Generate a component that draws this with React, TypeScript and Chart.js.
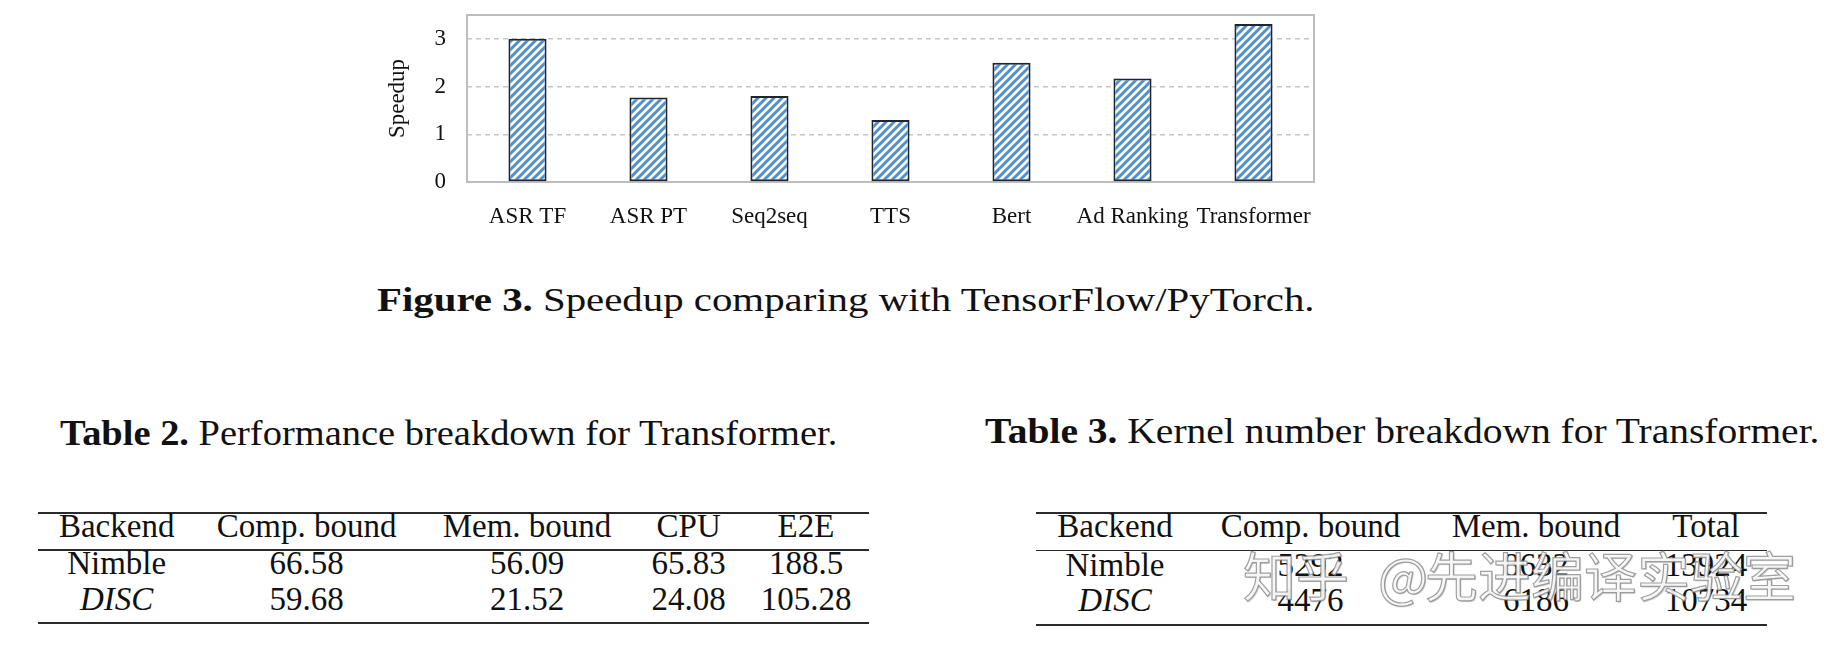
import React, { useEffect, useLayoutEffect, useRef, useState } from "react";
import { Chart, registerables } from "chart.js";

Chart.register(...registerables);

// ---------- data ----------
const categories = ["ASR TF", "ASR PT", "Seq2seq", "TTS", "Bert", "Ad Ranking", "Transformer"];
const speedup = [3.0, 1.77, 1.8, 1.3, 2.5, 2.17, 3.31];
const yTickValues = [0, 1, 2, 3];
const yMax = 3.5;
const yTitle = "Speedup";

const figureCaptionBold = "Figure 3.";
const figureCaptionRest = " Speedup comparing with TensorFlow/PyTorch.";

const table2CaptionBold = "Table 2.";
const table2CaptionRest = " Performance breakdown for Transformer.";
const table2Header = ["Backend", "Comp. bound", "Mem. bound", "CPU", "E2E"];
const table2Backends = ["Nimble", "DISC"];
const table2Comp = ["66.58", "59.68"];
const table2Mem = ["56.09", "21.52"];
const table2Cpu = ["65.83", "24.08"];
const table2E2E = ["188.5", "105.28"];

const table3CaptionBold = "Table 3.";
const table3CaptionRest = " Kernel number breakdown for Transformer.";
const table3Header = ["Backend", "Comp. bound", "Mem. bound", "Total"];
const table3Backends = ["Nimble", "DISC"];
const table3Comp = ["5292", "4476"];
const table3Mem = ["8632", "6186"];
const table3Total = ["13924", "10734"];

const watermarkParts = ["知乎", "@", "先进编译实验室"];

// ---------- layout / style ----------
const SERIF = "'Liberation Serif', 'Times New Roman', serif";
const W = 1842;
const H = 651;

function FitText(props: {
  left: number;
  baseline: number;
  width: number;
  size: number;
  children: React.ReactNode;
}) {
  const ref = useRef<HTMLDivElement>(null);
  const [sx, setSx] = useState(1);
  useLayoutEffect(() => {
    const el = ref.current;
    if (el) {
      const w = el.offsetWidth;
      if (w > 0) setSx(props.width / w);
    }
  }, []);
  return (
    <div
      ref={ref}
      style={{
        position: "absolute",
        left: props.left,
        top: props.baseline - 0.8375 * props.size,
        fontSize: props.size,
        lineHeight: 1,
        whiteSpace: "nowrap",
        fontFamily: SERIF,
        color: "#111",
        transform: `scaleX(${sx})`,
        transformOrigin: "0 0",
      }}
    >
      {props.children}
    </div>
  );
}

function Cell(props: { cx: number; baseline: number; size: number; italic?: boolean; text: string }) {
  return (
    <div
      style={{
        position: "absolute",
        left: props.cx,
        top: props.baseline - 0.8375 * props.size,
        fontSize: props.size,
        lineHeight: 1,
        whiteSpace: "nowrap",
        fontFamily: SERIF,
        fontStyle: props.italic ? "italic" : "normal",
        color: "#111",
        transform: "translateX(-50%)",
      }}
    >
      {props.text}
    </div>
  );
}

function Rule(props: { x1: number; x2: number; y: number; h: number }) {
  return (
    <div
      style={{
        position: "absolute",
        left: props.x1,
        top: props.y - props.h / 2,
        width: props.x2 - props.x1,
        height: props.h,
        background: "#2a2a2a",
      }}
    />
  );
}

function Table(props: {
  cols: number[];
  baselines: number[];
  rules: number[];
  x1: number;
  x2: number;
  header: string[];
  rows: string[][];
}) {
  const size = 33;
  const out: React.ReactNode[] = [];
  props.header.forEach((h, i) =>
    out.push(<Cell key={"h" + i} cx={props.cols[i]} baseline={props.baselines[0]} size={size} text={h} />)
  );
  props.rows.forEach((row, r) =>
    row.forEach((v, c) =>
      out.push(
        <Cell
          key={"r" + r + "c" + c}
          cx={props.cols[c]}
          baseline={props.baselines[r + 1]}
          size={size}
          italic={c === 0 && v === "DISC"}
          text={v}
        />
      )
    )
  );
  return (
    <>
      <Rule x1={props.x1} x2={props.x2} y={props.rules[0]} h={2} />
      <Rule x1={props.x1} x2={props.x2} y={props.rules[1]} h={1.5} />
      <Rule x1={props.x1} x2={props.x2} y={props.rules[2]} h={2} />
      {out}
    </>
  );
}

function makeStripePattern(): CanvasPattern | string {
  const s = 8;
  const c = document.createElement("canvas");
  c.width = s;
  c.height = s;
  const ctx = c.getContext("2d");
  if (!ctx) return "#5b9bd5";
  ctx.fillStyle = "#ffffff";
  ctx.fillRect(0, 0, s, s);
  ctx.strokeStyle = "#4f8fd3";
  ctx.lineWidth = 3;
  ctx.beginPath();
  ctx.moveTo(0, s);
  ctx.lineTo(s, 0);
  ctx.moveTo(-2, 2);
  ctx.lineTo(2, -2);
  ctx.moveTo(s - 2, s + 2);
  ctx.lineTo(s + 2, s - 2);
  ctx.stroke();
  const p = ctx.createPattern(c, "repeat");
  return p || "#5b9bd5";
}

function SpeedupChart() {
  const ref = useRef<HTMLCanvasElement>(null);
  useEffect(() => {
    const canvas = ref.current;
    if (!canvas) return;
    const pattern = makeStripePattern();
    const framePlugin = {
      id: "frame",
      beforeDatasetsDraw(chart: any) {
        const { ctx, chartArea } = chart;
        ctx.save();
        ctx.strokeStyle = "#bdbdbd";
        ctx.lineWidth = 2;
        ctx.strokeRect(chartArea.left, chartArea.top, chartArea.right - chartArea.left, chartArea.bottom - chartArea.top);
        ctx.restore();
      },
    };
    const chart = new Chart(canvas, {
      type: "bar",
      data: {
        labels: categories,
        datasets: [
          {
            data: speedup,
            backgroundColor: pattern as any,
            borderColor: "#1c2633",
            borderWidth: 2,
            borderSkipped: false,
            barPercentage: 0.315,
            categoryPercentage: 1,
          },
        ],
      },
      options: {
        responsive: false,
        animation: false,
        devicePixelRatio: 1,
        layout: { padding: { left: 380, right: W - 1314, top: 15, bottom: 0 } },
        plugins: { legend: { display: false }, tooltip: { enabled: false } },
        scales: {
          x: {
            grid: { display: false },
            border: { display: false },
            ticks: {
              autoSkip: false,
              maxRotation: 0,
              padding: 13,
              color: "#111",
              font: { family: SERIF, size: 23 },
            },
            afterFit(scale: any) {
              scale.height = 58;
              scale.paddingLeft = 0;
              scale.paddingRight = 0;
            },
          },
          y: {
            min: 0,
            max: yMax,
            ticks: {
              stepSize: 1,
              padding: 21,
              color: "#111",
              font: { family: SERIF, size: 23 },
            },
            afterBuildTicks(axis: any) {
              axis.ticks = yTickValues.map((v) => ({ value: v }));
            },
            grid: {
              drawTicks: false,
              lineWidth: 1.5,
              color: (ctx: any) => (ctx.tick && ctx.tick.value === 0 ? "rgba(0,0,0,0)" : "#c6c6c6"),
            },
            border: { display: false, dash: [5, 4] },
            title: {
              display: true,
              text: yTitle,
              color: "#111",
              font: { family: SERIF, size: 23 },
              padding: { top: 4, bottom: 0 },
            },
            afterFit(scale: any) {
              scale.width = 87;
              scale.paddingTop = 0;
              scale.paddingBottom = 0;
            },
          },
        },
      },
      plugins: [framePlugin],
    });
    return () => chart.destroy();
  }, []);
  return <canvas ref={ref} width={W} height={240} style={{ position: "absolute", left: 0, top: 0 }} />;
}

export default function App() {
  return (
    <div
      style={{
        position: "absolute",
        left: 0,
        top: 0,
        width: W,
        height: H,
        background: "#fff",
        overflow: "hidden",
      }}
    >
      <SpeedupChart />

      <FitText left={377} baseline={311.7} width={938} size={34}>
        <b>{figureCaptionBold}</b>
        {figureCaptionRest}
      </FitText>

      <FitText left={60} baseline={445} width={777} size={35}>
        <b>{table2CaptionBold}</b>
        {table2CaptionRest}
      </FitText>

      <FitText left={985} baseline={443.3} width={834} size={35}>
        <b>{table3CaptionBold}</b>
        {table3CaptionRest}
      </FitText>

      <Table
        cols={[116.7, 306.7, 527, 688.7, 806]}
        baselines={[537.7, 575, 610.7]}
        rules={[513.3, 550, 622.7]}
        x1={38}
        x2={869}
        header={table2Header}
        rows={table2Backends.map((b, i) => [b, table2Comp[i], table2Mem[i], table2Cpu[i], table2E2E[i]])}
      />

      <Table
        cols={[1115, 1310.5, 1536, 1706]}
        baselines={[538, 576.7, 611.7]}
        rules={[513.3, 550.7, 625]}
        x1={1036}
        x2={1767}
        header={table3Header}
        rows={table3Backends.map((b, i) => [b, table3Comp[i], table3Mem[i], table3Total[i]])}
      />

      {watermarkParts.map((t, i) => (
        <div
          key={i}
          style={{
            position: "absolute",
            left: [1243, 1378, 1425][i],
            top: 548,
            fontSize: 53,
            lineHeight: 1,
            whiteSpace: "nowrap",
            fontFamily: "'Noto Sans CJK SC', sans-serif",
            color: "rgba(250,250,250,0.92)",
            WebkitTextStroke: "1.2px rgba(130,130,130,0.75)",
            textShadow: "1px 1px 1px rgba(90,90,90,0.35)",
          }}
        >
          {t}
        </div>
      ))}
    </div>
  );
}
